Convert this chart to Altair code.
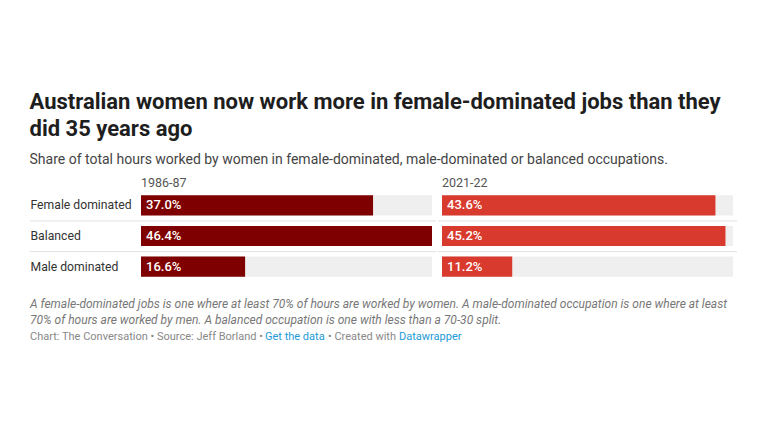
import altair as alt
import pandas as pd

categories = ["Female dominated", "Balanced", "Male dominated"]
periods = ["1986-87", "2021-22"]
values_1986 = [37.0, 46.4, 16.6]
values_2021 = [43.6, 45.2, 11.2]
colors = ["#7f0000", "#d93a2e"]

title_lines = ["Australian women now work more in female-dominated jobs than they", "did 35 years ago"]
subtitle = "Share of total hours worked by women in female-dominated, male-dominated or balanced occupations."
notes = ["A female-dominated jobs is one where at least 70% of hours are worked by women. A male-dominated occupation is one where at least",
         "70% of hours are worked by men. A balanced occupation is one with less than a 70-30 split."]
footer_parts = ["Chart: The Conversation • Source: Jeff Borland •", "Get the data", "• Created with", "Datawrapper"]
footer_colors = ["#888888", "#1d9ad6", "#888888", "#1d9ad6"]
footer_x = [0, 235, 298, 369]

FONT = "Roboto"
vmax = max(values_1986 + values_2021)
W, H = 291, 92
LBL = 111


def panel(period, vals, color, first):
    df = pd.DataFrame({"cat": categories, "val": vals, "bg": [vmax] * len(vals),
                       "label": [f"{v:.1f}%" for v in vals]})
    yax = alt.Axis(labelAlign="left", labelPadding=LBL, ticks=False, domain=False,
                   labelFontSize=12.2, labelColor="#333", labelFont=FONT, title=None,
                   grid=False) if first else None
    ysc = alt.Scale(paddingInner=0.344, paddingOuter=0.172)
    y = alt.Y("cat:N", sort=categories, axis=yax, scale=ysc)
    xs = alt.Scale(domain=[0, vmax], nice=False)
    base = alt.Chart(df)
    bg = base.mark_bar(color="#efefef").encode(x=alt.X("bg:Q", scale=xs, axis=None), y=y)
    bars = base.mark_bar(color=color).encode(x=alt.X("val:Q", scale=xs, axis=None), y=y)
    txt = base.mark_text(align="left", dx=5, color="white", fontSize=13, font=FONT,
                         fontWeight=500).encode(x=alt.datum(0, scale=xs), y=y, text="label:N")
    sep_df = pd.DataFrame({"cat": categories[1:]})
    sep = alt.Chart(sep_df).mark_rule(color="#e2e2e2", strokeWidth=1).encode(
        y=alt.Y("cat:N", sort=categories, axis=yax, scale=ysc),
        yOffset=alt.value(-5),
        x=alt.value(-LBL if first else -4),
        x2=alt.value(W + 4),
    )
    return alt.layer(sep, bg, bars, txt).properties(
        width=W, height=H,
        title=alt.TitleParams(period, anchor="start", frame="group", fontSize=12.5,
                              font=FONT, fontWeight="normal", color="#555", offset=1),
    )


left = panel(periods[0], values_1986, colors[0], True)
right = panel(periods[1], values_2021, colors[1], False)
top = alt.hconcat(left, right, spacing=0).resolve_scale(y="shared")

fdf = pd.DataFrame({"t": footer_parts, "c": footer_colors, "x": footer_x})
ndf = pd.DataFrame({"t": notes, "y": [0, 16]})
BW = 590
xsc = alt.Scale(domain=[0, BW + LBL], range=[-LBL, BW])
note_chart = alt.Chart(ndf).mark_text(align="left", baseline="alphabetic", fontSize=12,
                                      fontStyle="italic", font=FONT, color="#777").encode(
    x=alt.value(-LBL), y=alt.Y("y:Q", axis=None, scale=alt.Scale(domain=[0, 36], range=[12, 48])),
    text="t:N")
foot_chart = alt.Chart(fdf).mark_text(align="left", baseline="alphabetic", fontSize=11,
                                      font=FONT).encode(
    x=alt.X("x:Q", axis=None, scale=xsc),
    y=alt.value(44), text="t:N", color=alt.Color("c:N", scale=None))
bottom = alt.layer(note_chart, foot_chart).properties(width=BW, height=50)

chart = alt.vconcat(top, bottom, spacing=14).properties(
    title=alt.TitleParams(title_lines, subtitle=subtitle, anchor="start", frame="bounds",
                          fontSize=22, font=FONT, fontWeight="bold", color="#1e1e1e",
                          lineHeight=27, subtitleFontSize=14, subtitleFont=FONT,
                          subtitleColor="#444", subtitlePadding=12, offset=9),
    padding={"left": 29, "top": 90, "right": 5, "bottom": 5},
).configure(background="white").configure_view(strokeWidth=0, stroke="transparent")

chart.save("out.html", embed_options={"renderer": "svg", "actions": False})
